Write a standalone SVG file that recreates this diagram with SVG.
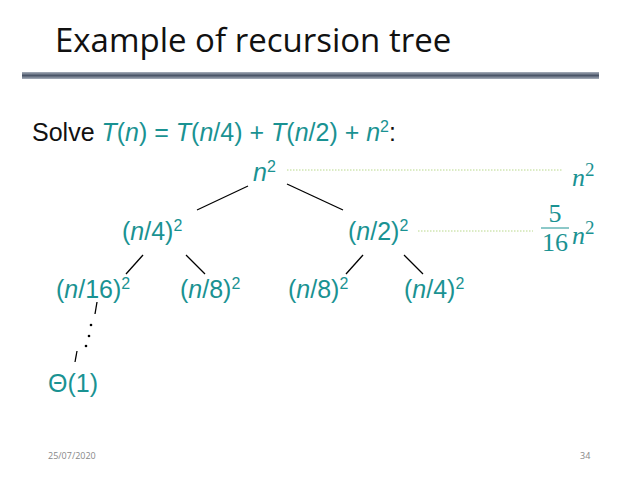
<svg xmlns="http://www.w3.org/2000/svg" width="638" height="478" viewBox="0 0 638 478">
<style>
.t{font-family:"Liberation Sans",Arial,sans-serif;font-size:25px;fill:#1a9292}
.s{font-size:16px}
.i{font-style:italic}
.e{stroke:#000;stroke-width:1.3}
.d{stroke:#b8d88a;stroke-width:1;stroke-dasharray:1.5 1.5}
.m{font-family:"Liberation Serif","Times New Roman",serif;font-size:26px;fill:#1a9292}
.f{font-family:"Open Sans",sans-serif;font-size:9px;fill:#888}
</style>
<defs><linearGradient id="g" x1="0" y1="0" x2="0" y2="1"><stop offset="0" stop-color="#a8b0bc"/><stop offset="0.5" stop-color="#4a5568"/><stop offset="1" stop-color="#a8b0bc"/></linearGradient></defs>
<rect width="638" height="478" fill="#fff"/>
<text x="55" y="52" font-family="Open Sans,sans-serif" font-size="33" fill="#111">Example of recursion tree</text>
<rect x="22" y="72" width="577" height="7" fill="url(#g)"/>
<text x="32" y="141" font-family="Liberation Sans,Arial,sans-serif" font-size="25" fill="#111">Solve <tspan fill="#1a9292"><tspan class="i">T</tspan>(<tspan class="i">n</tspan>) = <tspan class="i">T</tspan>(<tspan class="i">n</tspan>/4) + <tspan class="i">T</tspan>(<tspan class="i">n</tspan>/2) + <tspan class="i">n</tspan><tspan class="s" dy="-9">2</tspan></tspan><tspan dy="9">:</tspan></text>
<g id="connectors">
<line class="e" x1="248" y1="186" x2="197" y2="210"/>
<line class="e" x1="287" y1="184" x2="343" y2="210"/>
<line class="e" x1="143" y1="255" x2="126" y2="274"/>
<line class="e" x1="186" y1="255" x2="205" y2="274"/>
<line class="e" x1="363" y1="255" x2="346" y2="274"/>
<line class="e" x1="404" y1="255" x2="423" y2="274"/>
<line class="e" x1="97" y1="302" x2="95" y2="314"/>
<line class="e" x1="77" y1="351" x2="75" y2="362"/>
<circle cx="91" cy="325" r="1.3"/><circle cx="89" cy="336" r="1.3"/><circle cx="86" cy="346" r="1.3"/>
<line class="d" x1="287" y1="170" x2="563" y2="170"/>
<line class="d" x1="418" y1="231" x2="533" y2="231"/>
</g>
<g id="root"><text class="t" x="253" y="181"><tspan class="i">n</tspan><tspan class="s" dy="-9">2</tspan></text></g>
<g id="l1a"><text class="t" x="122" y="240">(<tspan class="i">n</tspan>/4)<tspan class="s" dy="-9">2</tspan></text></g>
<g id="l1b"><text class="t" x="348" y="240">(<tspan class="i">n</tspan>/2)<tspan class="s" dy="-9">2</tspan></text></g>
<g id="l2a"><text class="t" x="56" y="298">(<tspan class="i">n</tspan>/16)<tspan class="s" dy="-9">2</tspan></text></g>
<g id="l2b"><text class="t" x="180" y="298">(<tspan class="i">n</tspan>/8)<tspan class="s" dy="-9">2</tspan></text></g>
<g id="l2c"><text class="t" x="288" y="298">(<tspan class="i">n</tspan>/8)<tspan class="s" dy="-9">2</tspan></text></g>
<g id="l2d"><text class="t" x="404" y="298">(<tspan class="i">n</tspan>/4)<tspan class="s" dy="-9">2</tspan></text></g>
<g id="leaf"><text class="t" x="48" y="392">Θ(1)</text></g>
<g id="sum1"><text class="m" x="572" y="186"><tspan class="i">n</tspan><tspan font-size="19" dy="-10">2</tspan></text></g>
<g id="sum2">
<text class="m" x="555" y="222" text-anchor="middle">5</text>
<line x1="541" y1="228" x2="569" y2="228" stroke="#1a9292" stroke-width="1"/>
<text class="m" x="555" y="251" text-anchor="middle">16</text>
<text class="m" x="572" y="244"><tspan class="i">n</tspan><tspan font-size="19" dy="-10">2</tspan></text>
</g>
<text class="f" x="48" y="459">25/07/2020</text>
<text class="f" x="580" y="459">34</text>
</svg>
